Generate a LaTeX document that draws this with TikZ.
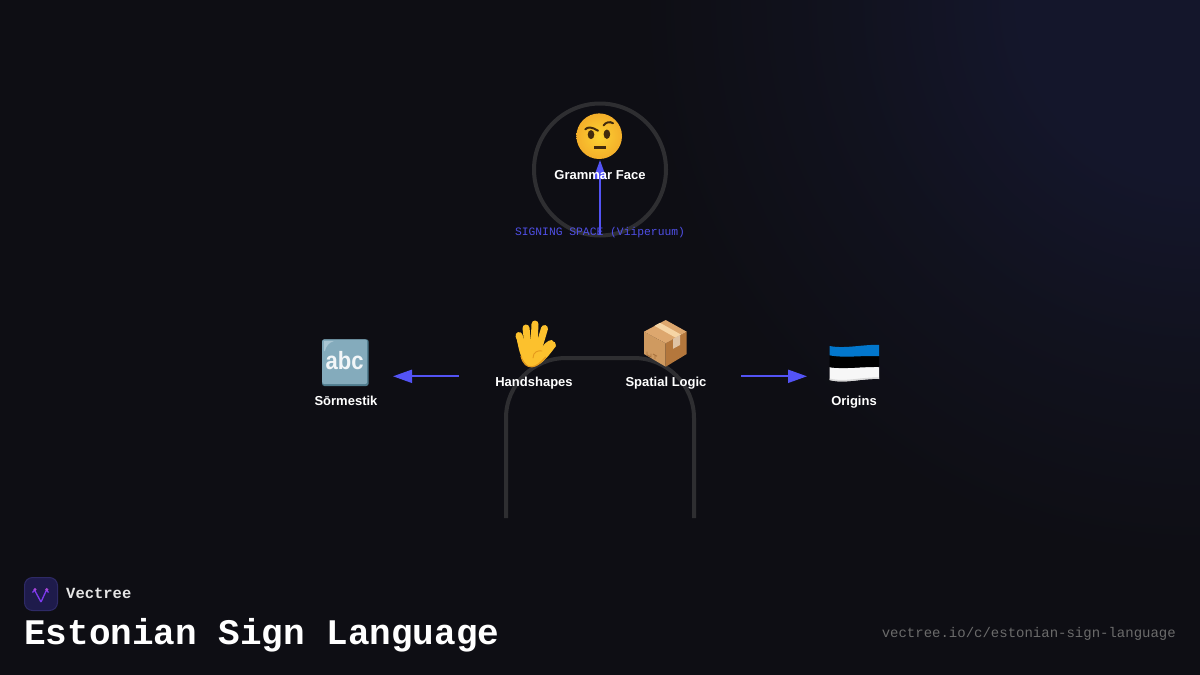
\documentclass[tikz,border=0pt]{standalone}
\usepackage{fontspec}
\setmainfont{Liberation Sans}
\newfontfamily\monof{Liberation Mono}
\usetikzlibrary{arrows.meta}
\definecolor{bgbase}{HTML}{0E0E14}
\definecolor{bgglow}{HTML}{14162B}
\definecolor{bgmid}{HTML}{11121E}
\definecolor{linkc}{HTML}{5353F5}
\definecolor{ringc}{HTML}{2E2E31}
\definecolor{handc}{HTML}{FCC12D}
\definecolor{HandE}{HTML}{E59A1C}
\definecolor{FaceA}{HTML}{FCD232}
\definecolor{FaceB}{HTML}{F4AF2A}
\definecolor{FaceD}{HTML}{422B0D}
\definecolor{AbcE}{HTML}{4F7C8E}
\definecolor{AbcF}{HTML}{84ABBC}
\definecolor{AbcH}{HTML}{A9C6D3}
\definecolor{AbcT}{HTML}{F2F6F8}
\definecolor{BoxL}{HTML}{CF9A60}
\definecolor{BoxR}{HTML}{B4773C}
\definecolor{BoxT}{HTML}{DDA76E}
\definecolor{BoxP}{HTML}{F6D5A5}
\definecolor{BoxQ}{HTML}{DFC3A4}
\definecolor{BoxU}{HTML}{A8733F}
\definecolor{FlagW}{HTML}{F7F7F7}
\definecolor{FlagS}{HTML}{D8D8D8}
\definecolor{FlagK}{HTML}{000000}
\definecolor{FlagB}{HTML}{0277CC}
\definecolor{SignC}{HTML}{4F4FE6}
\definecolor{LogoB}{HTML}{2E2A66}
\definecolor{LogoF}{HTML}{1E1B4B}
\definecolor{LogoL}{HTML}{7C3AED}
\definecolor{LogoD}{HTML}{A845D8}
\definecolor{BrandC}{HTML}{E5E5E5}
\definecolor{UrlC}{HTML}{6B6B6B}
\pgfdeclareradialshading{glow}{\pgfpoint{0bp}{0bp}}{color(0bp)=(bgglow); color(8bp)=(bgglow); color(16bp)=(bgmid); color(25bp)=(bgbase); color(50bp)=(bgbase)}
\tikzset{
  lbl/.style={font=\fontsize{13}{15}\selectfont\bfseries, text=white, inner sep=0pt, anchor=base},
  link/.style={draw=linkc, line width=2pt, -{Triangle[length=19pt,width=13pt]}},
  guide/.style={draw=ringc, line width=4pt},
  fing/.style={line cap=round, draw=handc, line width=7pt},
}
\begin{document}
\begin{tikzpicture}[x=1pt,y=-1pt]
\useasboundingbox (0,0) rectangle (1200,675);
\fill[bgbase] (0,0) rectangle (1200,675);
\begin{scope}
\clip (0,0) rectangle (1200,675);
\shade[shading=glow] (1200,0) circle[radius=560pt];
\end{scope}
% guides
\node[guide, circle, minimum size=132pt, inner sep=0pt, fill=none] (ring) at (600,169.5) {};
\draw[guide] (506,518) -- (506,418) .. controls (506,385) and (533,358) .. (566,358) -- (634,358) .. controls (667,358) and (694,385) .. (694,418) -- (694,518);
% free ends
\coordinate (upS) at (600,235);
\coordinate (upT) at (600,160);
\coordinate (leftS) at (459,376.3);
\coordinate (leftT) at (393,376.3);
\coordinate (rightS) at (741,376.3);
\coordinate (rightT) at (807,376.3);
\draw[link] (upS) -- (upT);
\draw[link] (leftS) -- (leftT);
\draw[link] (rightS) -- (rightT);
% face emoji
\shade[inner color=FaceA, outer color=FaceB] (599.2,136.2) circle[radius=22.8pt];
\fill[FaceD] (591,134.6) ellipse[x radius=3.3pt,y radius=4.5pt];
\fill[FaceD] (606.9,134.2) ellipse[x radius=3.3pt,y radius=4.7pt];
\draw[FaceD, line width=2pt, line cap=round] (585.3,129.3) .. controls (588,126.5) and (592,127) .. (598,130.7);
\draw[FaceD, line width=2pt, line cap=round] (603.5,125.5) .. controls (605.5,122.5) and (609.5,121) .. (613,123.2);
\fill[FaceD] (593.8,146) rectangle (605.5,148.6);
% hand emoji
\draw[fing] (524,350) -- (519,335.5);
\draw[fing] (528,346) -- (526,328);
\draw[fing] (534,346) -- (535,324);
\draw[fing] (539,347) -- (544.5,328.5);
\fill[handc] (517,340) .. controls (520,357) and (524,366) .. (531,366.7) .. controls (540,367) and (547,358) .. (556,346) -- (552,340) .. controls (547,340) and (544,345) .. (541,348) -- (538,340) -- (522,340) -- cycle;
\draw[fing, line width=6.5pt] (541,355) -- (552.5,344.5);
\draw[HandE, line width=0.9pt, line cap=round] (533,358) .. controls (533,352) and (538,350) .. (542,351);
\draw[HandE, line width=1.2pt] (521,356) .. controls (523,364) and (527,367) .. (532,366.8) .. controls (537,366.5) and (541,362) .. (546,357);
% abc emoji
\fill[AbcE, rounded corners=2.5pt] (322,339.3) rectangle (368.7,386);
\fill[AbcF, rounded corners=2pt] (322.2,339.4) rectangle (367.2,384);
\fill[AbcH] (324,341) -- (334,341) .. controls (329,342.5) and (326,346) .. (325,351) -- (324,351) -- cycle;
\node[inner sep=0pt, anchor=base, text=AbcT, transform shape, xscale=0.88, font=\fontsize{25}{27}\selectfont\bfseries] (abc) at (344.7,369.3) {abc};
% box emoji
\fill[BoxL] (665.7,343.3) -- (644,331.7) -- (644,354) -- (665.7,366.7) -- cycle;
\fill[BoxR] (665.7,343.3) -- (686.7,331.7) -- (686.7,354) -- (665.7,366.7) -- cycle;
\fill[BoxT] (665.7,320) -- (686.7,331.7) -- (665.7,343.3) -- (644,331.7) -- cycle;
\fill[BoxP] (654.5,325.8) -- (660,322.8) -- (681,334.6) -- (675.5,337.6) -- cycle;
\fill[BoxQ] (673,338.9) -- (680,335) -- (680,345) -- (673,348.8) -- cycle;
\draw[BoxU, line width=0.9pt] (647,351.5) -- (647,355) -- (651,357) -- (651,353.5) (653,354) -- (657,356.2) (655,355) -- (655,359);
% flag emoji
\fill[FlagW] (829.5,367) .. controls (845,369) and (862,366.5) .. (879,366.5) -- (879,379) .. controls (862,378.2) and (845,384) .. (829.5,380) -- cycle;
\fill[FlagS] (829.5,378.5) .. controls (845,382.5) and (862,376.7) .. (879,377.5) -- (879,379) .. controls (862,378.2) and (845,384) .. (829.5,380) -- cycle;
\fill[FlagK] (829.5,355) .. controls (845,358) and (862,355) .. (879,356) -- (879,367) .. controls (862,366.7) and (845,369.3) .. (829.5,367.3) -- cycle;
\fill[FlagB] (829.5,346) .. controls (845,349) and (862,344.5) .. (879,344.8) -- (879,356.2) .. controls (862,355.2) and (845,358.3) .. (829.5,355.3) -- cycle;
% labels
\node[lbl] (grammar) at (600,179.5) {Grammar Face};
\node[lbl] (hands) at (534,386.3) {Handshapes};
\node[lbl] (spatial) at (666,386.3) {Spatial Logic};
\node[lbl] (sorm) at (346,405.3) {Sōrmestik};
\node[lbl] (origins) at (854,405.3) {Origins};
\node[inner sep=0pt, anchor=base, text=SignC, font=\monof\fontsize{11.33}{13}\selectfont] (signing) at (600,235) {SIGNING SPACE (Viiperuum)};
% logo
\node[draw=LogoB, fill=LogoF, line width=1pt, rounded corners=8pt, minimum size=33pt, inner sep=0pt] (logo) at (41,594) {};
\draw[LogoL, line width=1.3pt] (41,602) -- (34.5,590) (41,602) -- (46.5,590) (34.5,590) -- (32.5,592.5) (46.5,590) -- (48.5,592.5);
\fill[LogoD] (35,589.5) circle[radius=1.7pt] (46.8,589.5) circle[radius=1.7pt];
\node[inner sep=0pt, anchor=base west, text=BrandC, font=\monof\bfseries\fontsize{15.5}{18}\selectfont] (brand) at (66,598.3) {Vectree};
\node[inner sep=0pt, anchor=base west, text=white, font=\monof\bfseries\fontsize{36}{40}\selectfont] (title) at (24,644.5) {Estonian Sign Language};
\node[inner sep=0pt, anchor=base east, text=UrlC, font=\monof\fontsize{14}{16}\selectfont] (url) at (1176,637) {vectree.io/c/estonian-sign-language};
\end{tikzpicture}
\end{document}
